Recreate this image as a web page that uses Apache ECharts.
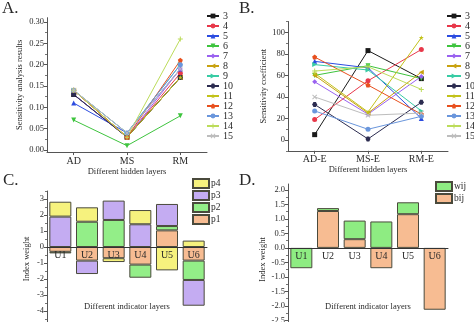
<!DOCTYPE html>
<html>
<head>
<meta charset="utf-8">
<script src="https://cdn.jsdelivr.net/npm/echarts@6/dist/echarts.min.js"></script>
<style>
  html, body { margin: 0; padding: 0; background: #fff; }
  #chart { width: 474px; height: 322px; }
</style>
</head>
<body>
<div id="chart"></div>
<script>
// Hidden-layer node counts (one line per count in panels A and B)
const nodeCounts = ['3', '4', '5', '6', '7', '8', '9', '10', '11', '12', '13', '14', '15'];
const hiddenLayers = ['AD', 'MS', 'RM'];
const hiddenLayersE = ['AD-E', 'MS-E', 'RM-E'];

// Panel A: sensitivity analysis results per node count
const sensitivityAD = [0.13, 0.14, 0.11, 0.07, 0.13, 0.14, 0.14, 0.13, 0.14, 0.14, 0.14, 0.14, 0.14];
const sensitivityMS = [0.03, 0.03, 0.04, 0.01, 0.03, 0.03, 0.04, 0.03, 0.03, 0.03, 0.04, 0.03, 0.04];
const sensitivityRM = [0.17, 0.18, 0.19, 0.08, 0.19, 0.17, 0.20, 0.17, 0.17, 0.21, 0.20, 0.26, 0.19];

// Panel B: sensitivity coefficient per node count
const coefAD = [5, 19, 73, 60, 54, 60, 70, 33, 62, 77, 27, 64, 40];
const coefMS = [83, 55, 67, 69, 24, 25, 65, 1, 26, 51, 10, 68, 23];
const coefRM = [57, 84, 20, 57, 59, 63, 27, 35, 95, 24, 22, 47, 25];

// Panels C and D: indicator layers
const indicatorLayers = ['U1', 'U2', 'U3', 'U4', 'U5', 'U6'];
const p1 = [-0.30, -0.85, -0.70, -1.10, 1.04, -0.85];
const p2 = [-0.10, 1.58, 1.69, -0.82, 0.27, -1.21];
const p3 = [1.90, -0.84, 1.21, 1.42, 1.38, -1.61];
const p4 = [0.93, 0.90, -0.24, 0.89, -1.46, 0.40];
const bij = [null, 1.27, 0.30, -0.70, 1.16, -2.13];
const wij = [-0.70, 0.10, 0.64, 0.91, 0.41, null];

// Tick positions
const ticksA = [0, 0.05, 0.10, 0.15, 0.20, 0.25, 0.30];
const minorA = [0.025, 0.075, 0.125, 0.175, 0.225, 0.275];
const ticksB = [0, 20, 40, 60, 80, 100];
const minorB = [-10, 10, 30, 50, 70, 90, 110];
const ticksC = [-4, -3, -2, -1, 0, 1, 2, 3];
const minorC = [-4.5, -3.5, -2.5, -1.5, -0.5, 0.5, 1.5, 2.5, 3.5];
const ticksD = [-2.5, -2.0, -1.5, -1.0, -0.5, 0.0, 0.5, 1.0, 1.5, 2.0];
const minorD = [-2.25, -1.75, -1.25, -0.75, -0.25, 0.25, 0.75, 1.25, 1.75];

const FONT = 'Liberation Serif';
const INK = '#2a2a2a';
const lineColors = ['#1a1a1a', '#e8384a', '#2c4ce0', '#3ec43e', '#9a62f0', '#c8a210', '#38cca4',
                    '#2c2c50', '#c2c21a', '#e8501e', '#6a96dc', '#bcdc5a', '#bdbdbd'];
const lineSymbols = [
  'rect', 'circle', 'triangle',
  'path://M0,0 L10,0 L5,10 Z',
  'diamond',
  'path://M10,0 L10,10 L0,5 Z',
  'path://M0,0 L10,5 L0,10 Z',
  'path://M2.5,0 L7.5,0 L10,5 L7.5,10 L2.5,10 L0,5 Z',
  'path://M5,0 L6.2,3.6 L10,3.6 L6.9,5.9 L8.1,9.5 L5,7.3 L1.9,9.5 L3.1,5.9 L0,3.6 L3.8,3.6 Z',
  'path://M5,0 L10,3.8 L8.1,10 L1.9,10 L0,3.8 Z',
  'circle',
  'path://M4,0 H6 V4 H10 V6 H6 V10 H4 V6 H0 V4 H4 Z',
  'path://M1.4,0 L5,3.6 L8.6,0 L10,1.4 L6.4,5 L10,8.6 L8.6,10 L5,6.4 L1.4,10 L0,8.6 L3.6,5 L0,1.4 Z'
];
const barColors = { p1: '#f7bc92', p2: '#93ee88', p3: '#c4acf2', p4: '#f6f27e', bij: '#f7bc92', wij: '#8eec82' };
const barBorder = '#4a4a3c';

const labelStyle = { fontFamily: FONT, color: INK };

function yAxisMain(grid, min, max, ticks, fmt, name, gap) {
  return {
    type: 'value', gridIndex: grid, min: min, max: max, position: 'left',
    name: name, nameLocation: 'middle', nameGap: gap, nameRotate: 90,
    nameTextStyle: { fontFamily: FONT, fontSize: 8.5, color: INK },
    axisLine: { show: true, lineStyle: { color: '#555', width: 1 } },
    axisTick: { show: true, length: 3, customValues: ticks, lineStyle: { color: '#555' } },
    axisLabel: { customValues: ticks, formatter: fmt, fontSize: 8.5, margin: 3, ...labelStyle },
    splitLine: { show: false }
  };
}
function yAxisMinor(grid, min, max, ticks) {
  return {
    type: 'value', gridIndex: grid, min: min, max: max, position: 'left', offset: 0,
    axisLine: { show: false },
    axisTick: { show: true, length: 2, customValues: ticks, lineStyle: { color: '#777' } },
    axisLabel: { show: false },
    splitLine: { show: false }
  };
}
function xAxisCat(grid, data, name, gap, opts) {
  return Object.assign({
    type: 'category', gridIndex: grid, data: data, boundaryGap: true, position: 'bottom',
    name: name, nameLocation: 'middle', nameGap: gap,
    nameTextStyle: { fontFamily: FONT, fontSize: 8.5, color: INK },
    axisLine: { onZero: false, lineStyle: { color: '#555', width: 1 } },
    axisTick: { show: true, alignWithLabel: true, length: 3, lineStyle: { color: '#555' } },
    axisLabel: { fontSize: 10, margin: 4, ...labelStyle },
    splitLine: { show: false }
  }, opts || {});
}
// Category axis drawn along the zero line of a bar panel (moved up from the grid bottom)
function zeroCatAxis(grid, offset, gap) {
  return xAxisCat(grid, indicatorLayers, 'Different indicator layers', gap, {
    z: 10, offset: offset,
    axisLine: { onZero: false, lineStyle: { color: '#333', width: 1 } },
    axisTick: { show: false },
    axisLabel: { fontSize: 10, margin: 3, ...labelStyle }
  });
}

const series = [];
nodeCounts.forEach((n, i) => {
  const common = {
    name: n, type: 'line', symbol: lineSymbols[i], symbolSize: 5,
    itemStyle: { color: lineColors[i] },
    lineStyle: { color: lineColors[i], width: 1 },
    emphasis: { disabled: true }, animation: false
  };
  series.push(Object.assign({ xAxisIndex: 0, yAxisIndex: 0,
    data: [sensitivityAD[i], sensitivityMS[i], sensitivityRM[i]] }, common));
  series.push(Object.assign({ xAxisIndex: 1, yAxisIndex: 2,
    data: [coefAD[i], coefMS[i], coefRM[i]] }, JSON.parse(JSON.stringify(common)), { symbol: lineSymbols[i] }));
});
[['p1', p1], ['p2', p2], ['p3', p3], ['p4', p4]].forEach(([name, data]) => {
  series.push({
    name: name, type: 'bar', stack: 'indicator', xAxisIndex: 2, yAxisIndex: 4, data: data,
    barWidth: 22, animation: false,
    itemStyle: { color: barColors[name], borderColor: barBorder, borderWidth: 1 }
  });
});
[['bij', bij], ['wij', wij]].forEach(([name, data]) => {
  series.push({
    name: name, type: 'bar', stack: 'weight', xAxisIndex: 3, yAxisIndex: 6, data: data,
    barWidth: 22, animation: false,
    itemStyle: { color: barColors[name], borderColor: barBorder, borderWidth: 1 }
  });
});

const lineLegend = (left, w) => ({
  orient: 'vertical', left: left, top: 11, padding: 0, itemWidth: w, itemHeight: 6, itemGap: 0,
  itemStyle: { borderWidth: 0 },
  textStyle: { fontFamily: FONT, fontSize: 10, lineHeight: 10, color: INK, padding: [0, 0, 0, -1] },
  data: nodeCounts, selectedMode: false
});
const barLegend = (left, top, names) => ({
  orient: 'vertical', left: left, top: top, padding: 0, itemWidth: 16, itemHeight: 9, itemGap: 1,
  icon: 'rect',
  textStyle: { fontFamily: FONT, fontSize: 9.5, lineHeight: 9, color: INK, padding: [0, 0, 0, -3] },
  data: names, selectedMode: false
});
const panelTitle = (text, left, top) => ({
  text: text, left: left, top: top, padding: 0,
  textStyle: { fontFamily: FONT, fontSize: 17, fontWeight: 'normal', color: INK }
});

const option = {
  backgroundColor: '#fff',
  animation: false,
  title: [panelTitle('A.', 2, 0), panelTitle('B.', 239, 0), panelTitle('C.', 3, 172), panelTitle('D.', 239, 172)],
  legend: [lineLegend(206, 12), lineLegend(446, 14), barLegend(192, 178, ['p4', 'p3', 'p2', 'p1']), barLegend(435, 181, ['wij', 'bij'])],
  grid: [
    { left: 47, top: 17.7, width: 160, height: 134.4, outerBoundsMode: 'none' },
    { left: 288, top: 21.5, width: 160, height: 129.3, outerBoundsMode: 'none' },
    { left: 47, top: 191, width: 160, height: 136, outerBoundsMode: 'none' },
    { left: 288, top: 184, width: 160, height: 151, outerBoundsMode: 'none' }
  ],
  xAxis: [
    xAxisCat(0, hiddenLayers, 'Different hidden layers', 14),
    xAxisCat(1, hiddenLayersE, 'Different hidden layers', 14),
    zeroCatAxis(2, -80, 55),
    zeroCatAxis(3, -87, 54)
  ],
  yAxis: [
    yAxisMain(0, -0.005, 0.31, ticksA, v => v.toFixed(2), 'Sensitivity analysis results', 23),
    yAxisMinor(0, -0.005, 0.31, minorA),
    yAxisMain(1, -10, 110, ticksB, v => String(v), 'Sensitivity coefficient', 20),
    yAxisMinor(1, -10, 110, minorB),
    yAxisMain(2, -5, 3.5, ticksC, v => String(v), 'Index weight', 16),
    yAxisMinor(2, -5, 3.5, minorC),
    yAxisMain(3, -3, 2.2, ticksD, v => v.toFixed(1), 'Index weight', 21),
    yAxisMinor(3, -3, 2.2, minorD)
  ],
  series: series
};

const chart = echarts.init(document.getElementById('chart'), null, { renderer: 'canvas' });
chart.setOption(option);
</script>
</body>
</html>
